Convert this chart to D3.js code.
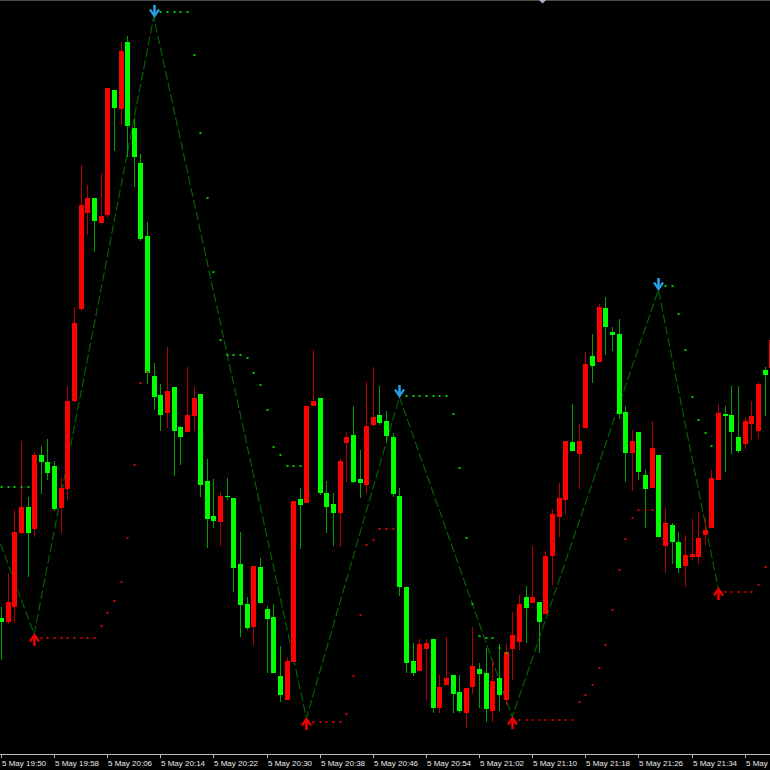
<!DOCTYPE html>
<html>
<head>
<meta charset="utf-8">
<script src="https://cdn.jsdelivr.net/npm/d3@7"></script>
<style>
html,body{margin:0;padding:0;background:#000;overflow:hidden;}
svg{display:block;}
</style>
</head>
<body>
<script>
// ---- Data (price in points, minute bars starting 5 May 19:50) ----
const tickIndex = [0,8,16,24,32,40,48,56,64,72,80,88,96,104,112];
const tickLabels = ["5 May 19:50","5 May 19:58","5 May 20:06","5 May 20:14","5 May 20:22","5 May 20:30","5 May 20:38","5 May 20:46","5 May 20:54","5 May 21:02","5 May 21:10","5 May 21:18","5 May 21:26","5 May 21:34","5 May 21:42"];

const opens = [142,138,153,227,253,231,305,298,294,252, 271,359,451,547,562,537,545,670,651,718, 632,597,524,384,365,347,373,333,328,344, 366,279,244,238,264,262,196,156,133,193, 151,143,84,60,98,261,257,354,362,267, 256,247,317,325,281,275,335,345,339,323, 264,173,99,89,111,121,52,75,85,68, 47,73,91,87,49,82,60,111,118,163, 157,158,146,204,243,260,318,306,332,404, 398,452,428,426,348,307,328,285,272,305, 214,235,218,194,203,203,225,232,280,346, 345,323,316,336,329,390,392];
const highs = [153,187,250,319,263,308,314,321,299,282, 374,453,595,575,562,587,672,670,718,724, 642,606,538,397,376,413,373,334,393,373, 366,301,281,268,282,262,228,163,194,202, 154,156,114,103,259,272,354,410,362,279, 267,301,328,354,310,378,393,374,349,327, 272,173,117,121,121,121,85,123,85,85, 72,133,97,112,101,116,116,148,165,174, 214,158,209,251,277,319,356,336,408,426, 456,463,433,441,354,330,328,290,339,305, 252,237,228,225,241,248,242,290,356,354, 374,374,343,359,378,393,432];
const lows = [100,136,137,226,183,223,266,280,249,227, 260,358,449,525,508,535,542,609,635,603, 573,519,376,350,329,332,284,295,328,329, 263,212,232,214,260,168,123,130,115,157, 87,87,58,60,98,211,257,354,265,227, 214,213,278,277,262,267,334,335,318,263, 164,87,84,89,60,47,47,75,47,47, 32,66,52,38,38,49,55,80,110,117, 157,107,146,175,223,246,309,271,332,377, 398,405,409,341,278,269,280,232,272,223, 187,196,187,173,200,196,215,232,280,288, 306,307,311,320,321,344,385];
const closes = [138,158,228,253,227,305,298,287,251,272, 359,437,555,562,539,544,672,652,709,634, 603,521,387,363,345,369,329,323,345,362, 275,241,239,264,263,192,155,132,194,157, 141,87,65,99,259,255,354,359,267,253, 247,299,323,278,277,334,343,337,324,266, 173,97,87,116,117,52,73,82,66,49, 72,94,86,51,79,65,108,125,156,152, 163,138,204,246,262,319,309,319,396,394, 453,433,425,346,307,319,288,271,312,223, 237,218,192,205,206,222,230,282,347,344, 328,309,339,344,376,385,420];

// ZigZag swing points
const zigzagIdx = [-2,5,23,46,60,77,99,108];
const zigzagPrice = [250,126,743,42,363,43,470,172];
// Swing arrows
const highArrowIdx = [23,60,99];
const highArrowPrice = [743,363,470];
const lowArrowIdx = [5,46,77,108];
const lowArrowPrice = [126,42,43,172];

// Trailing dots
const greenDotIdx = [0,1,2,3,4, 24,25,26,27,28,29,30,31,32,33,34,35,36,37,38,39,40,41,42,43,44,45, 61,62,63,64,65,66,67,68,69,70,71,72,73,74,75,76, 100,101,102,103,104,105,106,107];
const greenDotPrice = [273,273,273,273,273, 748,748,748,748,748,705,627,562,488,420,405,405,405,402,387,375,350,313,305,294,294,294, 364,364,364,364,364,364,364,346,292,222,156,124,122,122,112,107, 474,474,446,410,363,340,327,314];
const redDotIdx = [6,7,8,9,10,11,12,13,14,15,16,17,18,19,20,21,22, 47,48,49,50,51,52,53,54,55,56,57,58,59, 78,79,80,81,82,83,84,85,86,87,88,89,90,91,92,93,94,95,96,97,98, 109,110,111,112,113,114,115];
const redDotPrice = [122,122,122,122,122,122,122,122,122,134,147,159,178,222,295,377,388, 38,38,38,38,38,46,84,145,215,220,231,231,231, 40,40,40,40,40,40,40,40,40,58,65,75,92,115,150,190,221,242,250,250,250, 168,168,168,168,168,175,193];

// ---- Drawing ----
const W = 770, H = 770;
const svg = d3.select("body").append("svg").attr("width", W).attr("height", H)
  .style("background", "#000");

const x = d3.scaleLinear().domain([0, 115]).range([1, 764.6]);
const y = d3.scaleLinear().domain([0, 760]).range([760, 0]);

const px = i => Math.round(x(i));

// top border and shift marker
svg.append("line").attr("x1",0).attr("x2",W).attr("y1",0.5).attr("y2",0.5)
  .attr("stroke","#4a4a4a").attr("stroke-width",1);
svg.append("path").attr("d","M539,0L546,0L542.5,3.5Z").attr("fill","#a9b8cf");

const candles = opens.map((o,i)=>({i, o, h:highs[i], l:lows[i], c:closes[i]}));

const plot = svg.append("g").attr("clip-path","url(#clip)");
svg.append("clipPath").attr("id","clip").append("rect").attr("x",0).attr("y",2).attr("width",W).attr("height",751);

// zigzag line
const zz = zigzagIdx.map((d,k)=>[d, zigzagPrice[k]]);
plot.append("path")
  .attr("d", d3.line().x(d=>x(d[0])).y(d=>y(d[1]))(zz))
  .attr("fill","none").attr("stroke","#006a00").attr("stroke-width",1.1)
  .attr("stroke-dasharray","9,3");

// candles
const cg = plot.append("g");
candles.forEach(d=>{
  const up = d.c >= d.o;
  const cx = px(d.i);
  cg.append("line")
    .attr("x1",cx+0.5).attr("x2",cx+0.5)
    .attr("y1",Math.round(y(d.h))).attr("y2",Math.round(y(d.l)))
    .attr("stroke", up ? "#b40000" : "#00a000").attr("stroke-width",1);
  const top = Math.round(y(Math.max(d.o,d.c)));
  const bot = Math.round(y(Math.min(d.o,d.c)));
  cg.append("rect")
    .attr("x",cx-2).attr("width",5)
    .attr("y",top).attr("height",Math.max(1,bot-top))
    .attr("fill", up ? "#ff0000" : "#00ff00");
});

// dots
const dg = plot.append("g");
greenDotIdx.forEach((d,k)=>{
  dg.append("rect").attr("x",px(d)-0.5).attr("y",Math.round(y(greenDotPrice[k]))-1)
    .attr("width",2).attr("height",2).attr("fill","#00c800");
});
redDotIdx.forEach((d,k)=>{
  dg.append("rect").attr("x",px(d)-0.5).attr("y",Math.round(y(redDotPrice[k]))-1)
    .attr("width",2).attr("height",2).attr("fill","#d00000");
});

// arrows
const ag = plot.append("g");
highArrowIdx.forEach((d,k)=>{
  const cx = px(d)+0.5, t = y(highArrowPrice[k]);
  const col = "#27a0e6";
  ag.append("path").attr("d",`M${cx},${t-12}V${t-2}`).attr("stroke",col).attr("stroke-width",2.6);
  ag.append("path").attr("d",`M${cx-4.5},${t-7.5}L${cx},${t-1}L${cx+4.5},${t-7.5}`)
    .attr("fill","none").attr("stroke",col).attr("stroke-width",2.2);
});
lowArrowIdx.forEach((d,k)=>{
  const cx = px(d)+0.5, t = y(lowArrowPrice[k]);
  const col = "#f00000";
  ag.append("path").attr("d",`M${cx},${t+12}V${t+2}`).attr("stroke",col).attr("stroke-width",2.6);
  ag.append("path").attr("d",`M${cx-4.5},${t+7.5}L${cx},${t+1}L${cx+4.5},${t+7.5}`)
    .attr("fill","none").attr("stroke",col).attr("stroke-width",2.2);
});

// time axis
const axY = 754.5;
svg.append("line").attr("x1",0).attr("x2",W).attr("y1",axY).attr("y2",axY)
  .attr("stroke","#bdbdbd").attr("stroke-width",1);
const tg = svg.append("g");
tickIndex.forEach((d,k)=>{
  const tx = px(d)+0.5;
  tg.append("line").attr("x1",tx).attr("x2",tx).attr("y1",axY).attr("y2",axY+3.5)
    .attr("stroke","#bdbdbd").attr("stroke-width",1);
  tg.append("text").attr("x",tx+0.5).attr("y",765.5)
    .attr("fill","#e8e8e8")
    .attr("font-family","'Liberation Sans', Arial, sans-serif")
    .attr("font-size","8px")
    .text(tickLabels[k]);
});
</script>
</body>
</html>
